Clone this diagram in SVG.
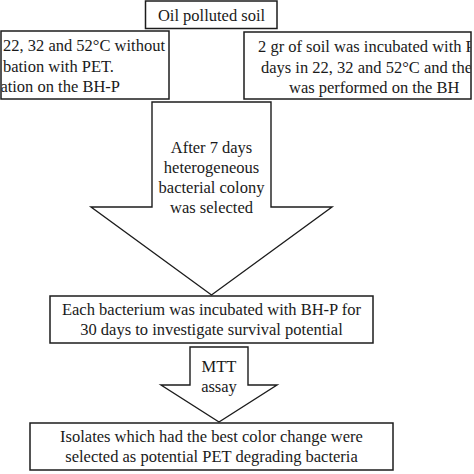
<svg xmlns="http://www.w3.org/2000/svg" width="474" height="474" viewBox="0 0 474 474">
<style>
.box{fill:#fff;stroke:#1c1c1c;stroke-width:1.5}
.arrow{fill:#fff;stroke:#1c1c1c;stroke-width:1.4;stroke-linejoin:miter}
text{font-family:"Liberation Serif","Times New Roman",serif;font-size:16.5px;fill:#1a1a1a}
.c{text-anchor:middle}
.e{text-anchor:end}
</style>
<defs>
<clipPath id="clipL"><rect x="1.5" y="31" width="167" height="68"/></clipPath>
<clipPath id="clipR"><rect x="244" y="32" width="226.5" height="67"/></clipPath>
</defs>
<rect width="474" height="474" fill="#fff"/>
<g id="connectors">
<polygon id="arrow1" class="arrow" points="152,102 271,102 271,207 332,207 211.5,295 91,207 152,207"/>
<polygon id="arrow2" class="arrow" points="190,347 248,347 248,385 277,385 219,422 161,385 190,385"/>
<text class="c" x="211.5" y="153">After 7 days</text>
<text class="c" x="211.5" y="173">heterogeneous</text>
<text class="c" x="211.5" y="193">bacterial colony</text>
<text class="c" x="211.5" y="213">was selected</text>
<text class="c" x="219" y="372">MTT</text>
<text class="c" x="219" y="392">assay</text>
</g>
<g id="node-soil">
<rect class="box" x="145.5" y="1" width="131.5" height="27.5"/>
<text class="c" x="211.5" y="21">Oil polluted soil</text>
</g>
<g id="node-left">
<rect class="box" x="1" y="31" width="168" height="68"/>
<g clip-path="url(#clipL)">
<text class="e" x="165" y="51">22, 32 and 52°C without</text>
<text class="e" x="114" y="72">bation with PET.</text>
<text class="e" x="120" y="92">ation on the BH-P</text>
</g>
</g>
<g id="node-right">
<rect class="box" x="244" y="32" width="227" height="67"/>
<g clip-path="url(#clipR)">
<text x="258" y="52">2 gr of soil was incubated with P</text>
<text x="261" y="73">days in 22, 32 and 52°C and then</text>
<text x="289" y="93">was performed on the BH</text>
</g>
</g>
<g id="node-survival">
<rect class="box" x="50" y="296" width="323" height="47"/>
<text class="c" x="211.5" y="315">Each bacterium was incubated with BH-P for</text>
<text class="c" x="211.5" y="335">30 days to investigate survival potential</text>
</g>
<g id="node-isolates">
<rect class="box" x="30" y="423" width="363" height="47"/>
<text class="c" x="211.5" y="442">Isolates which had the best color change were</text>
<text class="c" x="211.5" y="462">selected as potential PET degrading bacteria</text>
</g>
</svg>
